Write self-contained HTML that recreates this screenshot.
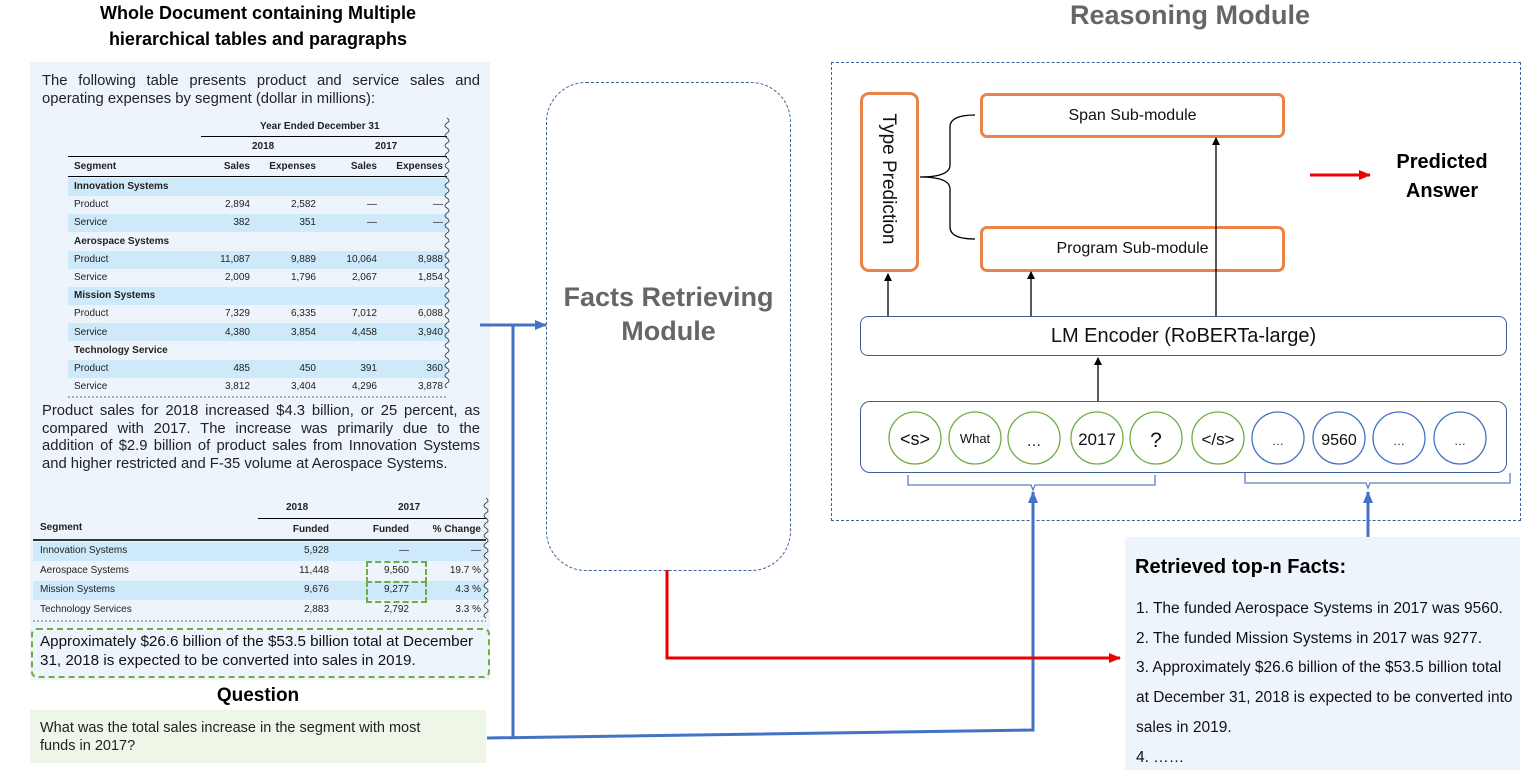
<!DOCTYPE html>
<html><head><meta charset="utf-8"><style>
body{margin:0;width:1528px;height:776px;background:#fff;position:relative;overflow:hidden;font-family:"Liberation Sans",sans-serif;}
.a{position:absolute;}
.t{position:absolute;font-size:10px;color:#222;white-space:nowrap;}
.b{font-weight:bold;}
.r{text-align:right;}
.sh{position:absolute;background:#cde9fa;}
</style></head><body>
<div class="a b" style="left:30px;top:0;width:456px;text-align:center;font-size:18px;line-height:26px;">Whole Document containing Multiple<br>hierarchical tables and paragraphs</div>
<div class="a" style="left:30px;top:62px;width:460px;height:618px;background:#edf4fb;"></div>
<div class="a" style="left:42px;top:72px;width:438px;font-size:14.8px;line-height:18px;text-align:justify;color:#222;">The following table presents product and service sales and operating expenses by segment (dollar in millions):</div>
<div class="sh" style="left:68px;top:178px;width:379px;height:18px"></div>
<div class="sh" style="left:68px;top:214px;width:379px;height:18px"></div>
<div class="sh" style="left:68px;top:251px;width:379px;height:18px"></div>
<div class="sh" style="left:68px;top:287px;width:379px;height:18px"></div>
<div class="sh" style="left:68px;top:323px;width:379px;height:18px"></div>
<div class="sh" style="left:68px;top:360px;width:379px;height:18px"></div>
<div class="a" style="left:201px;top:136px;width:246px;height:1px;background:#000"></div>
<div class="a" style="left:68px;top:156px;width:379px;height:1px;background:#000"></div>
<div class="a" style="left:68px;top:176px;width:379px;height:1px;background:#000"></div>
<div class="t b" style="left:260px;top:121px">Year Ended December 31</div>
<div class="t b" style="left:252px;top:141px">2018</div>
<div class="t b" style="left:375px;top:141px">2017</div>
<div class="t b" style="left:74px;top:161px">Segment</div>
<div class="t b r" style="left:190px;width:60px;top:161px">Sales</div>
<div class="t b r" style="left:250px;width:66px;top:161px">Expenses</div>
<div class="t b r" style="left:320px;width:57px;top:161px">Sales</div>
<div class="t b r" style="left:380px;width:63px;top:161px">Expenses</div>
<div id="t1"></div>
<script>
var rows=[["Innovation Systems",1],["Product","2,894","2,582","—","—"],["Service","382","351","—","—"],["Aerospace Systems",1],["Product","11,087","9,889","10,064","8,988"],["Service","2,009","1,796","2,067","1,854"],["Mission Systems",1],["Product","7,329","6,335","7,012","6,088"],["Service","4,380","3,854","4,458","3,940"],["Technology Service",1],["Product","485","450","391","360"],["Service","3,812","3,404","4,296","3,878"]];
var h="",rr=[250,316,377,443];
rows.forEach(function(r,i){var y=181+i*18.2;
if(r[1]===1){h+='<div class="t b" style="left:74px;top:'+y+'px">'+r[0]+'</div>';}
else{h+='<div class="t" style="left:74px;top:'+y+'px">'+r[0]+'</div>';for(var k=0;k<4;k++)h+='<div class="t r" style="left:'+(rr[k]-60)+'px;width:60px;top:'+y+'px">'+r[k+1]+'</div>';}});
document.getElementById("t1").outerHTML=h;
</script>
<div class="a" style="left:42px;top:403px;width:438px;font-size:14.8px;line-height:17.5px;text-align:justify;color:#222;">Product sales for 2018 increased $4.3 billion, or 25 percent, as compared with 2017. The increase was primarily due to the addition of $2.9 billion of product sales from Innovation Systems and higher restricted and F-35 volume at Aerospace Systems.</div>
<div class="sh" style="left:33px;top:542px;width:453px;height:19px"></div>
<div class="sh" style="left:33px;top:581px;width:453px;height:19px"></div>
<div class="a" style="left:258px;top:518px;width:228px;height:1px;background:#000"></div>
<div class="a" style="left:33px;top:539px;width:453px;height:2px;background:#333"></div>
<div class="t b" style="left:286px;top:502px">2018</div>
<div class="t b" style="left:398px;top:502px">2017</div>
<div class="t b" style="left:40px;top:522px">Segment</div>
<div class="t b r" style="left:269px;width:60px;top:524px">Funded</div>
<div class="t b r" style="left:349px;width:60px;top:524px">Funded</div>
<div class="t b r" style="left:411px;width:70px;top:524px">% Change</div>
<div class="t" style="left:40px;top:545px">Innovation Systems</div><div class="t r" style="left:269px;width:60px;top:545px">5,928</div><div class="t r" style="left:349px;width:60px;top:545px">—</div><div class="t r" style="left:421px;width:60px;top:545px">—</div>
<div class="t" style="left:40px;top:565px">Aerospace Systems</div><div class="t r" style="left:269px;width:60px;top:565px">11,448</div><div class="t r" style="left:349px;width:60px;top:565px">9,560</div><div class="t r" style="left:421px;width:60px;top:565px">19.7 %</div>
<div class="t" style="left:40px;top:584px">Mission Systems</div><div class="t r" style="left:269px;width:60px;top:584px">9,676</div><div class="t r" style="left:349px;width:60px;top:584px">9,277</div><div class="t r" style="left:421px;width:60px;top:584px">4.3 %</div>
<div class="t" style="left:40px;top:604px">Technology Services</div><div class="t r" style="left:269px;width:60px;top:604px">2,883</div><div class="t r" style="left:349px;width:60px;top:604px">2,792</div><div class="t r" style="left:421px;width:60px;top:604px">3.3 %</div>
<div class="a" style="left:366px;top:561px;width:57px;height:18px;border:2px dashed #70ad47;"></div>
<div class="a" style="left:366px;top:581px;width:57px;height:18px;border:2px dashed #70ad47;"></div>
<div class="a" style="left:31px;top:628px;width:455px;height:46px;border:2px dashed #70ad47;border-radius:6px;"></div>
<div class="a" style="left:40px;top:632px;width:442px;font-size:15.2px;line-height:19px;color:#111;">Approximately $26.6 billion of the $53.5 billion total at December 31, 2018 is expected to be converted into sales in 2019.</div>
<div class="a b" style="left:30px;top:685px;width:456px;text-align:center;font-size:19px;">Question</div>
<div class="a" style="left:30px;top:710px;width:456px;height:53px;background:#eef6e8;"></div>
<div class="a" style="left:40px;top:719px;width:400px;font-size:14.5px;line-height:18px;color:#222;">What was the total sales increase in the segment with most funds in 2017?</div>

<div class="a" style="left:546px;top:82px;width:243px;height:487px;border:1.5px dashed #3f5f98;border-radius:40px;"></div>
<div class="a b" style="left:546px;top:280px;width:245px;text-align:center;font-size:27px;line-height:34px;color:#666;">Facts Retrieving<br>Module</div>

<div class="a b" style="left:900px;top:0;width:580px;text-align:center;font-size:27px;color:#666;">Reasoning Module</div>
<div class="a" style="left:831px;top:62px;width:688px;height:457px;border:1.5px dashed #3f5f98;"></div>
<div class="a" style="left:860px;top:92px;width:53px;height:174px;border:3px solid #e8834a;border-radius:9px;"></div>
<div class="a" style="left:798px;top:168px;width:180px;text-align:center;font-size:19px;transform:rotate(90deg);color:#111;white-space:nowrap;">Type Prediction</div>
<div class="a" style="left:980px;top:93px;width:299px;height:39px;border:3px solid #e8834a;border-radius:7px;text-align:center;line-height:39px;font-size:16px;color:#111;">Span Sub-module</div>
<div class="a" style="left:980px;top:226px;width:299px;height:40px;border:3px solid #e8834a;border-radius:7px;text-align:center;line-height:40px;font-size:16px;color:#111;">Program Sub-module</div>
<div class="a" style="left:860px;top:316px;width:645px;height:38px;border:1.5px solid #3f5f98;border-radius:8px;text-align:center;line-height:38px;font-size:20px;color:#111;">LM Encoder (RoBERTa-large)</div>
<div class="a" style="left:860px;top:401px;width:645px;height:70px;border:1.5px solid #3f5f98;border-radius:10px;"></div>
<div class="a b" style="left:1378px;top:148px;width:128px;text-align:center;font-size:20px;line-height:29px;">Predicted<br>Answer</div>

<div class="a" style="left:1125px;top:537px;width:395px;height:233px;background:#edf4fb;"></div>
<div class="a b" style="left:1135px;top:556px;font-size:20px;">Retrieved top-n Facts:</div>
<div class="a" style="left:1136px;top:594px;font-size:15.5px;line-height:29.7px;color:#111;white-space:nowrap;">1. The funded Aerospace Systems in 2017 was 9560.<br>2. The funded Mission Systems in 2017 was 9277.<br>3. Approximately $26.6 billion of the $53.5 billion total<br>at December 31, 2018 is expected to be converted into<br>sales in 2019.<br>4. ……</div>

<svg class="a" style="left:0;top:0" width="1528" height="776">
<defs>
<marker id="k" markerWidth="8" markerHeight="8" refX="7" refY="4" orient="auto" markerUnits="userSpaceOnUse"><path d="M0,0L8,4L0,8z" fill="#000"/></marker>
<marker id="bl" markerWidth="12" markerHeight="10" refX="11" refY="5" orient="auto" markerUnits="userSpaceOnUse"><path d="M0,0L12,5L0,10z" fill="#4472c4"/></marker>
<marker id="rd" markerWidth="12" markerHeight="10" refX="11" refY="5" orient="auto" markerUnits="userSpaceOnUse"><path d="M0,0L12,5L0,10z" fill="#e00"/></marker>
</defs>
<g fill="none" stroke="#333" stroke-width="0.8">
<path d="M447,118 q4,3 0,5 q-4,3 0,5 q4,3 0,5 q-4,3 0,5 q4,3 0,5 q-4,3 0,5 q4,3 0,5 q-4,3 0,5 q4,3 0,5 q-4,3 0,5 q4,3 0,5 q-4,3 0,5 q4,3 0,5 q-4,3 0,5 q4,3 0,5 q-4,3 0,5 q4,3 0,5 q-4,3 0,5 q4,3 0,5 q-4,3 0,5 q4,3 0,5 q-4,3 0,5 q4,3 0,5 q-4,3 0,5 q4,3 0,5 q-4,3 0,5 q4,3 0,5 q-4,3 0,5 q4,3 0,5 q-4,3 0,5 q4,3 0,5 q-4,3 0,5 q4,3 0,5 q-4,3 0,5 q4,3 0,5 q-4,3 0,5 q4,3 0,5 q-4,3 0,5 q4,3 0,5 q-4,3 0,5 q4,3 0,5 q-4,3 0,5 q4,3 0,5 q-4,3 0,5 q4,3 0,5 q-4,3 0,5 q4,3 0,5 q-4,3 0,5 q4,3 0,5 q-4,3 0,5 q4,3 0,5 q-4,3 0,5 q4,3 0,5 q-4,3 0,5"/>
<path d="M68,397 H447" stroke-dasharray="2 2"/>
<path d="M486,498 q4,3 0,5 q-4,3 0,5 q4,3 0,5 q-4,3 0,5 q4,3 0,5 q-4,3 0,5 q4,3 0,5 q-4,3 0,5 q4,3 0,5 q-4,3 0,5 q4,3 0,5 q-4,3 0,5 q4,3 0,5 q-4,3 0,5 q4,3 0,5 q-4,3 0,5 q4,3 0,5 q-4,3 0,5 q4,3 0,5 q-4,3 0,5 q4,3 0,5 q-4,3 0,5 q4,3 0,5 q-4,3 0,5"/>
<path d="M33,621 H486" stroke-dasharray="2 2"/>
</g>
<g stroke="#000" stroke-width="1.3" fill="none">
<line x1="888" y1="316" x2="888" y2="274" marker-end="url(#k)"/>
<line x1="1031" y1="316" x2="1031" y2="272" marker-end="url(#k)"/>
<line x1="1216" y1="316" x2="1216" y2="138" marker-end="url(#k)"/>
<line x1="1098" y1="401" x2="1098" y2="358" marker-end="url(#k)"/>
<path d="M975,115 q-25,0 -25,12 v38 q0,12 -30,12 q30,0 30,12 v38 q0,12 25,12"/>
</g>
<line x1="1310" y1="175" x2="1370" y2="175" stroke="#e00" stroke-width="3" marker-end="url(#rd)"/>
<g stroke-width="1.3" fill="none">
<circle cx="915" cy="438" r="26" stroke="#70ad47"/>
<circle cx="975" cy="438" r="26" stroke="#70ad47"/>
<circle cx="1034" cy="438" r="26" stroke="#70ad47"/>
<circle cx="1097" cy="438" r="26" stroke="#70ad47"/>
<circle cx="1156" cy="438" r="26" stroke="#70ad47"/>
<circle cx="1218" cy="438" r="26" stroke="#70ad47"/>
<circle cx="1278" cy="438" r="26" stroke="#4472c4"/>
<circle cx="1339" cy="438" r="26" stroke="#4472c4"/>
<circle cx="1399" cy="438" r="26" stroke="#4472c4"/>
<circle cx="1460" cy="438" r="26" stroke="#4472c4"/>
<path d="M908,475 v10 H1031 l2,5 l2,-5 H1155 v-10" stroke="#5b7fbf"/>
<path d="M1245,473 v10 H1366 l2,5 l2,-5 H1510 v-10" stroke="#5b7fbf"/>
</g>
<g font-family="Liberation Sans, sans-serif" fill="#111" text-anchor="middle">
<text x="915" y="445" font-size="18">&lt;s&gt;</text>
<text x="975" y="443" font-size="13">What</text>
<text x="1034" y="446" font-size="15">…</text>
<text x="1097" y="445" font-size="17">2017</text>
<text x="1156" y="447" font-size="21">?</text>
<text x="1218" y="445" font-size="17">&lt;/s&gt;</text>
<text x="1278" y="445" font-size="12">…</text>
<text x="1339" y="445" font-size="16">9560</text>
<text x="1399" y="445" font-size="12">…</text>
<text x="1460" y="445" font-size="12">…</text>
</g>
<g stroke="#4472c4" stroke-width="3" fill="none">
<line x1="480" y1="325" x2="546" y2="325" marker-end="url(#bl)"/>
<line x1="513" y1="325" x2="513" y2="738"/>
<polyline points="487,738 1033,730 1033,492" marker-end="url(#bl)"/>
<line x1="1368" y1="537" x2="1368" y2="492" marker-end="url(#bl)"/>
</g>
<polyline points="667,570 667,658 1120,658" fill="none" stroke="#e00" stroke-width="3" marker-end="url(#rd)"/>
</svg>
</body></html>
